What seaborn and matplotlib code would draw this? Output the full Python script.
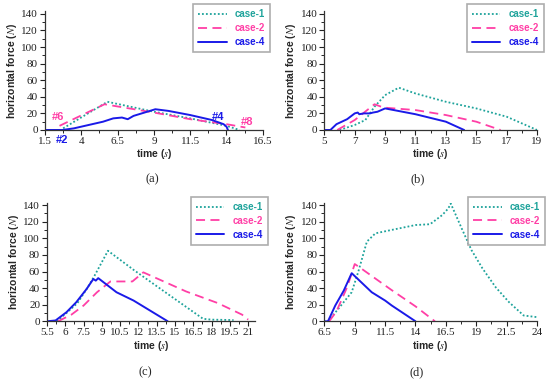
import matplotlib
matplotlib.use("Agg")
import matplotlib.pyplot as plt
import seaborn as sns
import pandas as pd
from matplotlib.ticker import MultipleLocator, AutoMinorLocator, FuncFormatter

sns.set_style("ticks")
plt.rcParams['font.family'] = ['Liberation Serif', 'DejaVu Serif']
plt.rcParams['mathtext.fontset'] = 'stix'

# colours / names
teal = '#1ea39b'
pink = '#ff3fa6'
blue = '#1a1ae8'
names = ['case-1', 'case-2', 'case-4']

# ---- panel (a) ----
a1_t = [2.75, 5.8, 9.0, 11.5, 14.0, 14.9]
a1_f = [2, 34, 22, 14, 5, 0]
a2_t = [2.5, 5.6, 9.0, 11.5, 14.0, 15.3]
a2_f = [5, 31, 21, 13, 7, 3]
a4_t = [1.5, 2.7, 3.5, 4.5, 5.5, 6.2, 6.8, 7.2, 7.6, 9.1, 10.0, 11.5, 13.0, 13.8, 14.0, 14.1]
a4_f = [0, 0, 2, 6, 10, 14, 15, 13, 17, 25, 23, 18, 12, 7, 4, 0]

# ---- panel (b) ----
b1_t = [6.0, 7.0, 7.7, 8.3, 9.0, 9.9, 11.0, 13.0, 15.0, 17.0, 19.0]
b1_f = [0, 6, 12, 28, 42, 51, 44, 34, 26, 16, 0]
b2_t = [5.85, 7.0, 8.3, 8.9, 11.0, 13.0, 15.0, 16.6]
b2_f = [0, 12, 31, 27, 24, 18, 10, 0]
b4_t = [5.0, 5.4, 5.8, 6.5, 7.0, 7.2, 7.3, 7.6, 8.0, 8.2, 8.5, 9.0, 11.0, 13.0, 14.2]
b4_f = [0, 0, 7, 13, 20, 21, 19, 20, 20, 21, 22, 26, 19, 10, 0]

# ---- panel (c) ----
c1_t = [5.3, 6.1, 7.0, 7.8, 8.4, 9.5, 11.6, 14.3, 17.3, 18.0, 19.8]
c1_f = [0, 10, 22, 40, 55, 85, 62, 34, 3, 2, 1.5]
c2_t = [5.4, 6.5, 7.5, 8.6, 9.7, 11.5, 12.4, 15.9, 18.5, 20.5, 21.0]
c2_f = [0, 8, 19, 35, 48, 48, 59, 36, 22, 8, 2]
c4_t = [4.5, 5.2, 6.1, 6.9, 7.75, 8.3, 8.5, 8.7, 10.2, 11.6, 14.4]
c4_f = [0, 1, 11, 23, 39, 51, 49, 52, 35, 25, 0]

# ---- panel (d) ----
d1_t = [6.8, 7.65, 8.75, 9.3, 10.0, 10.7, 12.0, 14.0, 15.2, 16.2, 16.7, 16.9,
        17.8, 18.6, 19.5, 20.6, 21.7, 22.9, 24.0]
d1_f = [0, 15, 35, 60, 96, 106, 110, 116, 117, 128, 136, 142,
        112, 86, 64, 41, 23, 7, 5]
d2_t = [6.9, 7.5, 8.4, 9.0, 9.5, 12.0, 14.0, 15.6]
d2_f = [0, 12, 42, 69, 64, 38, 18, 0]
d4_t = [6.5, 6.8, 7.4, 8.1, 8.75, 10.4, 11.5, 12.05, 14.0]
d4_f = [0, 0, 19, 37, 58, 35, 25, 19, 0]

# axis settings per panel
a_ticks = [1.5, 4, 6.5, 9, 11.5, 14, 16.5]
b_ticks = [5, 7, 9, 11, 13, 15, 17, 19]
c_ticks = [4.5, 6, 7.5, 9, 10.5, 12, 13.5, 15, 16.5, 18, 19.5, 21]
c_labels = ['5.5', '6', '7.5', '9', '10.5', '12', '13.5', '15', '16.5', '18', '19.5', '21']
d_ticks = [6.5, 9, 11.5, 14, 16.5, 19, 21.5, 24]

panels = [
    dict(pos=[0.0818, 0.6615, 0.396, 0.309], xlim=(1.5, 16.5), ticks=a_ticks, labels=None,
         data=[(a1_t, a1_f), (a2_t, a2_f), (a4_t, a4_f)], tag='(a)', tagpos=(0.277, 0.526),
         leg=(0.491, 0.99)),
    dict(pos=[0.5897, 0.6615, 0.3867, 0.309], xlim=(5, 19), ticks=b_ticks, labels=None,
         data=[(b1_t, b1_f), (b2_t, b2_f), (b4_t, b4_f)], tag='(b)', tagpos=(0.76, 0.526),
         leg=(0.989, 0.99)),
    dict(pos=[0.0855, 0.1633, 0.379, 0.309], xlim=(4.5, 21.6), ticks=c_ticks, labels=c_labels,
         data=[(c1_t, c1_f), (c2_t, c2_f), (c4_t, c4_f)], tag='(c)', tagpos=(0.264, 0.024),
         leg=(0.487, 0.488)),
    dict(pos=[0.5897, 0.1633, 0.3867, 0.309], xlim=(6.5, 24), ticks=d_ticks, labels=None,
         data=[(d1_t, d1_f), (d2_t, d2_f), (d4_t, d4_f)], tag='(d)', tagpos=(0.758, 0.024),
         leg=(0.991, 0.488)),
]

styles = [dict(color=teal, linestyle=(0, (1, 1.2)), linewidth=1.3),
          dict(color=pink, linestyle=(0, (5, 3)), linewidth=1.3),
          dict(color=blue, linestyle='-', linewidth=1.4)]

fmt = FuncFormatter(lambda v, pos: '%g' % v)

fig = plt.figure(figsize=(5.5, 3.84), dpi=100)
axes = []
for p in panels:
    ax = fig.add_axes(p['pos'])
    axes.append(ax)
    for (t, f), st, nm in zip(p['data'], styles, names):
        df = pd.DataFrame({'time': t, 'force': f})
        sns.lineplot(data=df, x='time', y='force', ax=ax, sort=False, estimator=None,
                     label=nm, **st)
    ax.set_xlim(*p['xlim'])
    ax.set_ylim(0, 143)
    ax.set_xticks(p['ticks'])
    if p['labels'] is not None:
        ax.set_xticklabels(p['labels'])
    else:
        ax.xaxis.set_major_formatter(fmt)
    ax.yaxis.set_major_locator(MultipleLocator(20))
    ax.yaxis.set_minor_locator(MultipleLocator(10))
    ax.xaxis.set_minor_locator(AutoMinorLocator(2))
    ax.tick_params(axis='both', which='major', direction='out', length=3.5, width=0.8,
                   labelsize=8, pad=1.5, colors='#222222')
    ax.tick_params(axis='both', which='minor', direction='out', length=2, width=0.7)
    for s in ['top', 'right']:
        ax.spines[s].set_visible(False)
    for s in ['left', 'bottom']:
        ax.spines[s].set_linewidth(0.9)
        ax.spines[s].set_color('#333333')
    ax.set_xlabel(r'time ($s$)', fontfamily='Liberation Sans', fontweight='bold',
                  fontsize=7.5, labelpad=1)
    ax.set_ylabel(r'horizontal force ($N$)', fontfamily='Liberation Sans', fontweight='bold',
                  fontsize=7.5, labelpad=2)
    leg = ax.legend(loc='upper right', bbox_to_anchor=p['leg'], bbox_transform=fig.transFigure,
                    frameon=True, fancybox=False, handlelength=2.9, handletextpad=0.8,
                    borderpad=0.55, labelspacing=0.4, borderaxespad=0,
                    prop=dict(family='Liberation Sans', weight='bold', size=7))
    leg.get_frame().set_edgecolor('#999999')
    leg.get_frame().set_linewidth(1.2)
    for txt, st in zip(leg.get_texts(), styles):
        txt.set_color(st['color'])
    fig.text(p['tagpos'][0], p['tagpos'][1], p['tag'], fontsize=9, ha='center',
             family='Liberation Serif')

# markers of panel (a)
ax = axes[0]
tfont = dict(family='Liberation Sans', weight='bold', size=8, ha='center', va='center')
ax.text(2.4, 15.5, '#6', color=pink, **tfont)
ax.text(2.65, -12, '#2', color=blue, clip_on=False, **tfont)
ax.text(13.4, 15.5, '#4', color=blue, **tfont)
ax.text(15.4, 9.6, '#8', color=pink, **tfont)

fig.savefig('out.png', dpi=100)
